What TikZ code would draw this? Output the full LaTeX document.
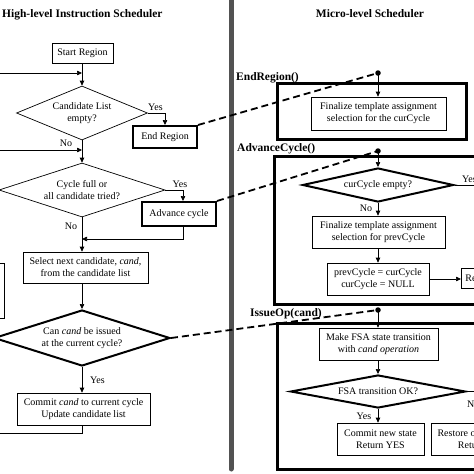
\documentclass[tikz,border=0pt]{standalone}
\usepackage{fontspec}
\setmainfont{Liberation Serif}
\usetikzlibrary{shapes.geometric,arrows.meta}
\begin{document}
\begin{tikzpicture}[x=1pt,y=-1pt,
  font=\fontsize{10}{12}\selectfont,
  box/.style={draw,line width=0.7pt,inner sep=0pt,align=center},
  tbox/.style={box,line width=2pt},
  dia/.style={draw,diamond,inner sep=0pt,align=center,line width=0.7pt},
  tdia/.style={dia,line width=2pt},
  arr/.style={line width=0.7pt,-{Triangle[length=5pt,width=4.5pt]}},
  ln/.style={line width=0.7pt},
  dsh/.style={line width=1.8pt,dash pattern=on 7pt off 4pt},
  framebox/.style={draw,line width=2.5pt,inner sep=0pt},
  lbl/.style={inner sep=0pt},
  ttl/.style={inner sep=0pt,font=\fontsize{11.5}{13}\selectfont\bfseries},
  dotn/.style={circle,fill,inner sep=0pt,minimum size=5.5pt},
]
\useasboundingbox (0,0) rectangle (474,474);
\clip (0,0) rectangle (474,474);

% separator bar
\draw[line width=5pt,color=black!68,line cap=round] (231,-5) -- (231,469);

% ---------- left: high-level scheduler ----------
\node[ttl,anchor=west] (t1) at (2,15) {High-level Instruction Scheduler};
\node[box,minimum width=61pt,minimum height=20pt] (start) at (82.5,53) {Start Region};
\node[dia,aspect=2.43,minimum width=131pt,minimum height=54pt] (d1) at (82,113) {Candidate List\\empty?};
\node[tbox,minimum width=64pt,minimum height=22pt] (endreg) at (165,137) {End Region};
\node[dia,aspect=3.07,minimum width=166pt,minimum height=54pt] (d2) at (82,190) {Cycle full or\\all candidate tried?};
\node[tbox,minimum width=74pt,minimum height=24pt] (adv) at (179,214) {Advance cycle};
\node[box,minimum width=125pt,minimum height=31pt] (sel) at (85.5,267.5) {Select next candidate, \textit{cand},\\from the candidate list};
\node[box,minimum width=44pt,minimum height=55pt] (lbox) at (-18,290.5) {};
\node[tdia,aspect=3.14,minimum width=176pt,minimum height=56pt] (d3) at (82,338) {Can \textit{cand} be issued\\at the current cycle?};
\node[box,minimum width=133pt,minimum height=32pt] (com) at (83.5,409) {Commit \textit{cand} to current cycle\\Update candidate list};

\coordinate (fb1) at (-5,73);
\coordinate (fb2) at (-5,150);
\coordinate (fb3) at (-5,433);
\coordinate (j2) at (82,239);

\draw[arr] (start.south -| d1.north) -- (d1.north);
\draw[arr] (fb1) -- (fb1 -| d1.north);
\draw[arr] (d1.south) -- (d2.north);
\draw[arr] (fb2) -- (fb2 -| d2.north);
\draw[arr] (d1.east) -| (endreg.north);
\draw[arr] (d2.east) -| ([xshift=4pt]adv.north);
\draw[arr] (d2.south) -- (d2.south |- sel.north);
\draw[arr] ([xshift=4pt]adv.south) |- (j2);
\draw[arr] (sel.south -| d3.north) -- (d3.north);
\draw[arr] (d3.south) -- (d3.south |- com.north);
\draw[ln] (com.south -| d3.south) |- (fb3);

\node[lbl] (y1) at (155.5,107) {Yes};
\node[lbl] (n1) at (66,143) {No};
\node[lbl] (y2) at (180,184) {Yes};
\node[lbl] (n2) at (71,226) {No};
\node[lbl] (y3) at (97.5,380) {Yes};

% ---------- right: micro-level scheduler ----------
\node[ttl] (t2) at (370,14) {Micro-level Scheduler};
\node[ttl,anchor=west] (lE) at (236,78) {EndRegion()};
\node[ttl,anchor=west] (lA) at (237,149) {AdvanceCycle()};
\node[ttl,anchor=west] (lI) at (250,314) {IssueOp(cand)};

% frames
\node[framebox,minimum width=190pt,minimum height=57pt] (fE) at (372,111.5) {};
\node[framebox,minimum width=246pt,minimum height=149pt] (fA) at (397,230.5) {};
\node[framebox,minimum width=243pt,minimum height=147pt] (fI) at (398.5,396.5) {};
\foreach \f in {fE,fA,fI}{
  \draw[line width=0.8pt] ([shift={(3pt,-3pt)}]\f.north west) rectangle ([shift={(-3pt,3pt)}]\f.south east);
}

\node[dotn] (dE) at (378,73) {};
\node[dotn] (dA) at (378,151) {};
\node[dotn] (dI) at (378,310) {};

% EndRegion
\node[box,minimum width=135pt,minimum height=33pt] (fin1) at (378.5,113.5) {Finalize template assignment\\selection for the curCycle};
\draw[arr] (dE.center) -- (dE.center |- fin1.north);

% AdvanceCycle
\node[tdia,aspect=4.44,minimum width=151pt,minimum height=34pt] (d4) at (378,185) {curCycle empty?};
\node[box,minimum width=133pt,minimum height=32pt] (fin2) at (378.5,232) {Finalize template assignment\\selection for prevCycle};
\node[box,minimum width=102pt,minimum height=32pt] (prev) at (378,279) {prevCycle = curCycle\\curCycle = NULL};
\node[box,anchor=west,minimum height=20pt,inner xsep=4pt] (ret) at (461,278) {Return NULL};
\coordinate (eR) at (480,185);
\draw[arr] (dA.center) -- (d4.north);
\draw[ln] (d4.east) -- (eR);
\draw[arr] (d4.south) -- (d4.south |- fin2.north);
\draw[arr] (fin2.south -| d4.south) -- (d4.south |- prev.north);
\draw[arr] (prev.east) -- (prev.east -| ret.west);
\node[lbl,anchor=west] (y4) at (462,179) {Yes};
\node[lbl] (n4) at (366,208) {No};

% IssueOp
\node[box,minimum width=119pt,minimum height=32pt] (mk) at (378.5,344) {Make FSA state transition\\with \textit{cand operation}};
\node[tdia,aspect=5.3,minimum width=175pt,minimum height=33pt] (fsa) at (378,391.5) {FSA transition OK?};
\node[box,minimum width=87pt,minimum height=32pt] (cns) at (380.5,439) {Commit new state\\Return YES};
\node[box,minimum width=98pt,minimum height=32pt] (rst) at (480,439) {Restore original state\\Return NO};
\coordinate (eR2) at (480,391.5);
\draw[arr] (dI.center) -- (dI.center |- mk.north);
\draw[arr] (mk.south -| fsa.north) -- (fsa.north);
\draw[arr] (fsa.south) -- (fsa.south |- cns.north);
\draw[ln] (fsa.east) -- (eR2);
\node[lbl] (y5) at (364,416) {Yes};
\node[lbl,anchor=west] (n5) at (467,404) {No};

% dashed calls
\draw[dsh] (endreg.north east) -- (dE.center);
\draw[dsh] (adv.north east) -- (dA.center);
\draw[dsh] (d3.east) -- (dI.center);
\end{tikzpicture}
\end{document}
